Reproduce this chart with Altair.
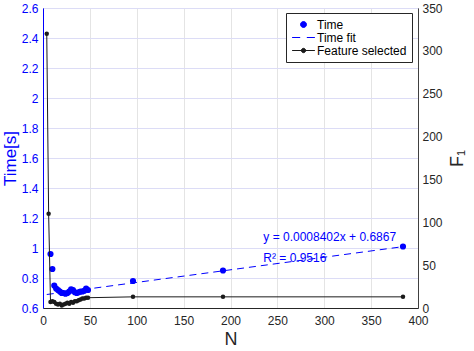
import altair as alt
import pandas as pd

FONT = "Liberation Sans"
BLUE = "#0000ff"
BLACK = "#1a1a1a"
DARK = "#262626"

# ---- data ----
time_n = [8, 10, 12, 14, 16, 18, 20, 22, 24, 26, 28, 30, 32, 34, 36, 38, 40, 42, 44, 46, 48, 96, 192, 384]
time_s = [0.96, 0.86, 0.75, 0.73, 0.72, 0.71, 0.70, 0.70, 0.695, 0.70, 0.71, 0.725, 0.72, 0.705,
          0.70, 0.705, 0.71, 0.71, 0.715, 0.73, 0.72, 0.78, 0.85, 1.01]

feat_n = [4, 6, 8, 10, 12, 14, 16, 18, 20, 22, 24, 26, 28, 30, 32, 34, 36, 38, 40, 42, 44, 46, 48, 96, 192, 384]
feat_f1 = [320, 110, 7, 8, 7, 5, 4, 5, 3, 4, 5, 6, 5, 7, 6, 8, 8, 9, 10, 11, 11, 12, 12, 13, 13, 13]

fit_n = [4, 384]
fit_t = [0.690, 1.009]

ann_n = [235, 235]
ann_t = [1.073, 0.933]
ann_text = ["y = 0.0008402x + 0.6867", "R\u00b2 = 0.9516"]

legend_names = ["Time", "Time fit", "Feature selected"]
legend_colors = [BLUE, BLUE, BLACK]
legend_shapes = [
    "M0.5,0A0.5,0.5 0 1 1 -0.5,0A0.5,0.5 0 1 1 0.5,0Z",
    "M-1.9,0H-0.55M0.55,0H1.9",
    "M-1.9,0H1.9M0.36,0A0.36,0.36 0 1 1 -0.36,0A0.36,0.36 0 1 1 0.36,0Z",
]

x_ticks = [0, 50, 100, 150, 200, 250, 300, 350, 400]
yl_ticks = [0.6, 0.8, 1.0, 1.2, 1.4, 1.6, 1.8, 2.0, 2.2, 2.4, 2.6]
yr_ticks = [0, 50, 100, 150, 200, 250, 300, 350]

time_df = pd.DataFrame({"N": time_n, "t": time_s})
feat_df = pd.DataFrame({"N": feat_n, "F1": feat_f1})
fit_df = pd.DataFrame({"N": fit_n, "t": fit_t})
ann_df = pd.DataFrame({"N": ann_n, "t": ann_t, "label": ann_text})
leg_df = pd.DataFrame({"series": legend_names, "N": [-50, -50, -50], "t": [0.0, 0.0, 0.0]})

X = alt.X(
    "N:Q",
    scale=alt.Scale(domain=[0, 400], nice=False),
    axis=alt.Axis(
        values=x_ticks, title="N", titleFont=FONT, titleFontSize=18, titleFontWeight="normal",
        titleColor=DARK, labelFont=FONT, labelFontSize=12, labelColor=DARK, domainColor=DARK,
        ticks=False, labelPadding=7, titlePadding=4, gridColor="#e4e4e4", grid=True,
        labelFlush=False,
    ),
)
YL = alt.Y(
    "t:Q",
    scale=alt.Scale(domain=[0.6, 2.6], nice=False, zero=False),
    axis=alt.Axis(
        values=yl_ticks, format=".1~f", title="Time[s]", titleFont=FONT, titleFontSize=17,
        titleFontWeight="normal", titleColor=BLUE, labelFont=FONT, labelFontSize=12,
        labelColor=BLUE, domainColor=BLUE, ticks=False, labelPadding=5, titlePadding=2,
        grid=True, gridColor="#dcdcf6",
    ),
)
YR = alt.Y(
    "F1:Q",
    scale=alt.Scale(domain=[0, 350], nice=False),
    axis=alt.Axis(
        orient="right", values=yr_ticks, title="F\u2081", titleFont=FONT, titleFontSize=18,
        titleFontWeight="normal", titleColor=DARK, titleAngle=270, titleBaseline="top",
        labelFont=FONT, labelFontSize=12, labelColor=DARK, domainColor="#404040", ticks=False,
        labelPadding=4, titlePadding=6, grid=False,
    ),
)

legend = alt.Legend(
    orient="none", legendX=243, legendY=5, title=None, labelFont=FONT, labelFontSize=12,
    labelColor="black", strokeColor=DARK, fillColor="white", padding=5, symbolSize=144,
    symbolStrokeWidth=1, rowPadding=0, labelOffset=7, symbolOffset=6, cornerRadius=0,
    symbolOpacity=1,
)

fit = alt.Chart(fit_df).mark_line(color=BLUE, strokeDash=[7, 5], strokeWidth=1).encode(x=X, y=YL)
pts = alt.Chart(time_df).mark_circle(size=38, color=BLUE, opacity=1).encode(x=X, y=YL)
ann = alt.Chart(ann_df).mark_text(
    align="left", baseline="middle", color=BLUE, fontSize=12, font=FONT
).encode(x=X, y=YL, text="label:N")
leg = alt.Chart(leg_df).mark_point(filled=True, clip=True, opacity=1).encode(
    x=X, y=YL,
    fill=alt.Fill("series:N", scale=alt.Scale(domain=legend_names, range=legend_colors), legend=legend),
    stroke=alt.Stroke("series:N", scale=alt.Scale(domain=legend_names, range=legend_colors), legend=legend),
    shape=alt.Shape("series:N", scale=alt.Scale(domain=legend_names, range=legend_shapes), legend=legend),
)

left = alt.layer(fit, pts, ann, leg)

right = alt.Chart(feat_df).mark_line(
    color=BLACK, strokeWidth=1,
    point=alt.OverlayMarkDef(filled=True, size=20, color=BLACK),
).encode(x=X, y=YR)

chart = (
    alt.layer(left, right)
    .resolve_scale(y="independent")
    .properties(
        width=375, height=300, autosize="none",
        padding={"left": 43, "top": 8, "right": 56, "bottom": 43},
        background="white",
    )
    .configure_view(stroke=DARK, strokeWidth=1)
)

chart.save("out.html", embed_options={"renderer": "svg", "actions": False})
